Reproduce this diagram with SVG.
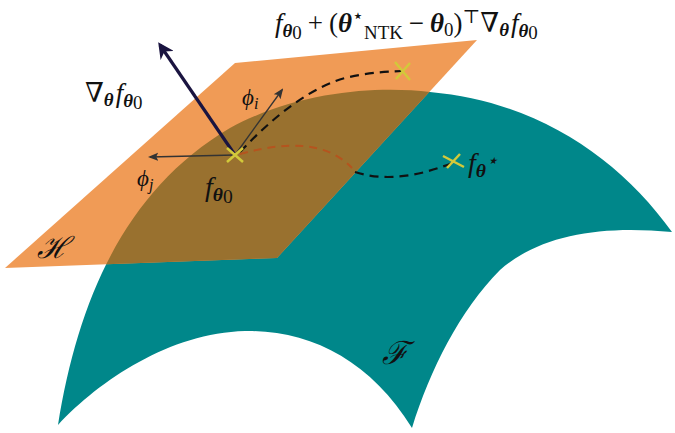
<svg xmlns="http://www.w3.org/2000/svg" width="675" height="433" viewBox="0 0 675 433">
<style>
text{font-family:"Liberation Serif","DejaVu Serif",serif;fill:#111}
.i{font-style:italic}
.b{font-weight:bold;font-style:italic}
.sub{font-size:70%}
.x{stroke:#d2c93a;stroke-width:2.5;fill:none}
</style>
<defs>
<clipPath id="pc"><polygon points="235,63 477,40 277,258 5,268"/></clipPath>
<marker id="ah" viewBox="0 0 10 10" refX="8" refY="5" markerWidth="5" markerHeight="5" orient="auto"><path d="M0,0L10,5L0,10L3,5Z" fill="#1a1440"/></marker>
<marker id="ag" viewBox="0 0 10 10" refX="8" refY="5" markerWidth="8" markerHeight="8" orient="auto"><path d="M0,1L10,5L0,9L2,5Z" fill="#333"/></marker>
</defs>
<path id="F" d="M58,425 C78,300 125,190 230,128 C300,90 380,86 430,92 C540,102 620,160 672,232 C600,225 540,235 500,270 C460,310 430,370 412,428 C370,360 310,330 245,331 C170,333 100,380 58,425 Z" fill="#00878a"/>
<polygon points="235,63 477,40 277,258 5,268" fill="#f09b56"/>
<path d="M58,425 C78,300 125,190 230,128 C300,90 380,86 430,92 C540,102 620,160 672,232 C600,225 540,235 500,270 C460,310 430,370 412,428 C370,360 310,330 245,331 C170,333 100,380 58,425 Z" fill="#99712f" clip-path="url(#pc)"/>
<g id="connectors" fill="none">
<path d="M240,152 C275,115 310,88 345,78 C370,72 385,72 402,71" stroke="#111" stroke-width="2.2" stroke-dasharray="9,6"/>
<path d="M240,154 C285,142 325,140 352,168" stroke="#b5541e" stroke-width="2" stroke-dasharray="8,6"/>
<path d="M355,172 C385,182 420,176 452,163" stroke="#111" stroke-width="2.2" stroke-dasharray="9,6"/>
<line x1="235" y1="155" x2="160" y2="45" stroke="#1a1440" stroke-width="3.2" marker-end="url(#ah)"/>
<line x1="235" y1="155" x2="282" y2="90" stroke="#333" stroke-width="1.3" marker-end="url(#ag)"/>
<line x1="235" y1="155" x2="150" y2="157" stroke="#333" stroke-width="1.3" marker-end="url(#ag)"/>
</g>
<g id="crosses">
<path class="x" d="M227,148L243,162M227,162L243,148"/>
<path class="x" d="M395,62L410,80M396,79L410,63"/>
<path class="x" d="M443,156L464,167M447,168L460,154"/>
</g>
<g id="labels">
<text x="275" y="32" font-size="27"><tspan class="i">f</tspan><tspan class="b sub" dy="5">θ</tspan><tspan class="sub" dy="2">0</tspan><tspan dx="6" dy="-7">+</tspan><tspan dx="6">(</tspan><tspan class="b">θ</tspan><tspan class="sub" dy="-10">⋆</tspan><tspan class="sub" dy="17">NTK</tspan><tspan dx="6" dy="-7">−</tspan><tspan class="b" dx="6">θ</tspan><tspan class="sub" dy="4">0</tspan><tspan dy="-4">)</tspan><tspan class="sub" dy="-9">⊤</tspan><tspan dy="9">∇</tspan><tspan class="b sub" dy="4">θ</tspan><tspan class="i" dx="2" dy="-4">f</tspan><tspan class="b sub" dy="5">θ</tspan><tspan class="sub" dy="2">0</tspan></text>
<text x="85" y="102" font-size="27">∇<tspan class="b sub" dy="4">θ</tspan><tspan class="i" dx="2" dy="-4">f</tspan><tspan class="b sub" dy="5">θ</tspan><tspan class="sub" dy="2">0</tspan></text>
<text x="242" y="105" font-size="23" class="i" fill="#333">ϕ<tspan class="sub" dy="4">i</tspan></text>
<text x="137" y="186" font-size="23" class="i" fill="#333">ϕ<tspan class="sub" dy="4">j</tspan></text>
<text x="205" y="196" font-size="28" class="i">f<tspan class="b sub" dy="5">θ</tspan><tspan class="sub" font-style="normal" dy="2">0</tspan></text>
<text x="468" y="172" font-size="28" class="i">f<tspan class="b sub" dy="5">θ</tspan><tspan class="sub" dy="-10">⋆</tspan></text>
<text x="37" y="258" font-size="30" class="i">ℋ</text>
<text x="382" y="364" font-size="32" class="i">ℱ</text>
</g>
</svg>
